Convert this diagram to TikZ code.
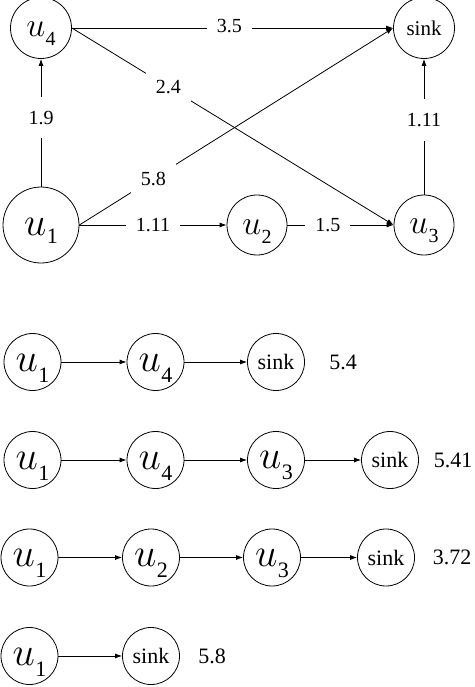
\RequirePackage{fix-cm}
\documentclass[tikz,border=0pt]{standalone}
\usepackage{fontspec}
\setmainfont{Liberation Serif}
\usetikzlibrary{arrows.meta}

\newcommand\uu[5]{\rule{0pt}{#5}{\fontsize{#1}{#1}\selectfont$u$}\kern0.5pt\raisebox{-#3}{\fontsize{#2}{#2}\selectfont #4}}
\newcommand\ubig[1]{\uu{40pt}{22pt}{11pt}{#1}{29pt}}
\newcommand\utop[1]{\uu{40pt}{22pt}{8pt}{#1}{28pt}}
\newcommand\usm[1]{\uu{34pt}{20pt}{9pt}{#1}{27pt}}

\begin{document}
\begin{tikzpicture}[x=1pt,y=-1pt,
  vtx/.style={circle,draw,line width=0.8pt,inner sep=0pt},
  sml/.style={vtx,minimum size=57pt},
  edge/.style={line width=0.8pt,-{Latex[length=7pt,width=5pt]}},
  lbl/.style={fill=white,inner xsep=10pt,inner ysep=8pt,font=\fontsize{20pt}{20pt}\selectfont},
  vlbl/.style={lbl,inner ysep=14pt},
  num/.style={inner sep=0pt,font=\fontsize{22pt}{22pt}\selectfont},
  sinktop/.style={font=\fontsize{21pt}{21pt}\selectfont},
  sinkbot/.style={font=\fontsize{22pt}{22pt}\selectfont}]
\useasboundingbox (0,0) rectangle (474,687);

% top graph
\node[vtx,minimum size=61pt] (t4) at (41,28) {\usm4};
\node[vtx,minimum size=61pt,sinktop] (ts) at (424,28) {sink};
\node[vtx,minimum size=76pt] (t1) at (41,225) {\utop1};
\node[vtx,minimum size=60pt] (t2) at (257,225) {\usm2};
\node[vtx,minimum size=60pt] (t3) at (424,225) {\usm3};

\draw[edge] (t4.east) -- node[lbl,pos=0.49,yshift=2pt] (l35) {3.5} (ts.west);
\draw[edge] (t4.east) -- node[lbl,pos=0.3] (l24) {2.4} (t3.west);
\draw[edge] (t1.north) -- node[vlbl,pos=0.54] (l19) {1.9} (t4.south);
\draw[edge] (t1.east) -- node[lbl,pos=0.236] (l58) {5.8} (ts.west);
\draw[edge] (t1.east) -- node[lbl,pos=0.5] (l111a) {1.11} (t2.west);
\draw[edge] (t2.east) -- node[lbl,pos=0.38] (l15) {1.5} (t3.west);
\draw[edge] (t3.north) -- node[vlbl,pos=0.55] (l111b) {1.11} (ts.south);

% row 1
\node[sml] (a1) at (32.5,362) {\ubig1};
\node[sml] (a2) at (155.5,362) {\ubig4};
\node[sml,sinkbot] (a3) at (276,362) {sink};
\node[num] (av) at (343,362) {5.4};
\draw[edge] (a1) -- (a2);
\draw[edge] (a2) -- (a3);

% row 2
\node[sml] (b1) at (32.5,460) {\ubig1};
\node[sml] (b2) at (155.5,460) {\ubig4};
\node[sml] (b3) at (276,460) {\ubig3};
\node[sml,sinkbot] (b4) at (390,460) {sink};
\node[num] (bv) at (453,460) {5.41};
\draw[edge] (b1) -- (b2);
\draw[edge] (b2) -- (b3);
\draw[edge] (b3) -- (b4);

% row 3
\node[sml] (c1) at (29.5,557.5) {\ubig1};
\node[sml] (c2) at (151,557.5) {\ubig2};
\node[sml] (c3) at (272,557.5) {\ubig3};
\node[sml,sinkbot] (c4) at (386,557.5) {sink};
\node[num] (cv) at (452,557.5) {3.72};
\draw[edge] (c1) -- (c2);
\draw[edge] (c2) -- (c3);
\draw[edge] (c3) -- (c4);

% row 4
\node[sml] (d1) at (29.5,656) {\ubig1};
\node[sml,sinkbot] (d2) at (151,656) {sink};
\node[num] (dv) at (212,656) {5.8};
\draw[edge] (d1) -- (d2);
\end{tikzpicture}
\end{document}
